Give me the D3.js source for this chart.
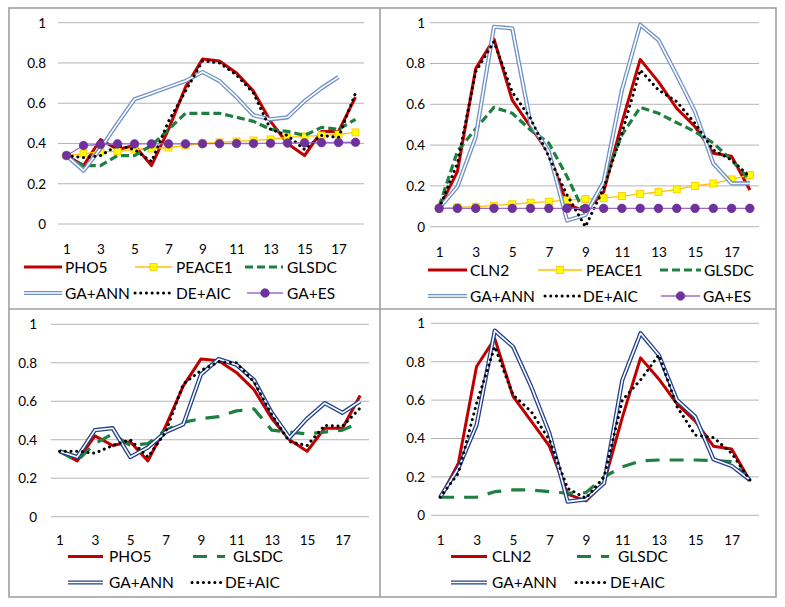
<!DOCTYPE html>
<html><head><meta charset="utf-8">
<script src="https://cdn.jsdelivr.net/npm/d3@7/dist/d3.min.js"></script>
<style>
html,body{margin:0;padding:0;background:#fff;}
svg{display:block;font-family:Lato,"Liberation Sans",sans-serif;}
</style></head>
<body>
<svg id="chart" width="785" height="607"></svg>
<script>
// ---------- data ----------
const categories = [1,2,3,4,5,6,7,8,9,10,11,12,13,14,15,16,17,18];
const xTickLabels = [1,3,5,7,9,11,13,15,17];
const yTickValues = [0,0.2,0.4,0.6,0.8,1];

// PHO5 target profile
const pho5 = [0.34,0.29,0.42,0.37,0.39,0.29,0.47,0.68,0.82,0.81,0.75,0.66,0.51,0.40,0.34,0.46,0.46,0.63];
// top-left panel estimates
const peace1Pho5 = [0.34,0.35,0.36,0.36,0.37,0.375,0.38,0.39,0.40,0.405,0.41,0.415,0.42,0.43,0.435,0.44,0.445,0.455];
const glsdcPho5 = [0.34,0.29,0.29,0.34,0.34,0.39,0.47,0.55,0.55,0.55,0.53,0.51,0.47,0.46,0.44,0.48,0.47,0.52];
const gaAnnPho5 = [0.34,0.265,0.375,0.50,0.62,0.65,0.68,0.71,0.755,0.71,0.63,0.54,0.52,0.53,0.61,0.675,0.73,null];
const deAicPho5 = [0.34,0.33,0.34,0.39,0.37,0.31,0.51,0.66,0.81,0.80,0.74,0.65,0.47,0.44,0.37,0.44,0.43,0.65];
const gaEsPho5 = [0.34,0.39,0.395,0.398,0.398,0.398,0.398,0.398,0.399,0.399,0.40,0.40,0.401,0.402,0.403,0.404,0.405,0.406];
// bottom-left panel estimates
const glsdcPho5B = [0.34,0.29,0.38,0.43,0.37,0.38,0.45,0.49,0.51,0.52,0.55,0.56,0.45,0.44,0.43,0.44,0.45,0.49];
const gaAnnPho5B = [0.34,0.31,0.45,0.46,0.31,0.36,0.44,0.48,0.74,0.82,0.79,0.71,0.54,0.41,0.51,0.59,0.54,0.60];
const deAicPho5B = [0.34,0.34,0.33,0.37,0.40,0.31,0.44,0.69,0.76,0.805,0.80,0.70,0.53,0.39,0.37,0.475,0.47,0.565];

// CLN2 target profile
const cln2 = [0.09,0.27,0.775,0.92,0.62,0.49,0.36,0.11,0.075,0.17,0.51,0.82,0.71,0.58,0.49,0.36,0.345,0.18];
// top-right panel estimates
const peace1Cln2 = [0.09,0.095,0.098,0.103,0.11,0.118,0.123,0.13,0.135,0.14,0.15,0.16,0.17,0.183,0.20,0.212,0.232,0.253];
const glsdcCln2 = [0.10,0.37,0.48,0.585,0.556,0.474,0.41,0.245,0.06,0.22,0.45,0.585,0.556,0.51,0.466,0.41,0.327,0.229];
const gaAnnCln2 = [0.09,0.196,0.44,0.98,0.972,0.507,0.368,0.03,0.057,0.22,0.67,0.99,0.915,0.743,0.564,0.31,0.212,0.212];
const deAicCln2 = [0.09,0.31,0.76,0.907,0.66,0.531,0.343,0.155,0.0,0.188,0.458,0.768,0.67,0.613,0.506,0.376,0.327,0.245];
const gaEsCln2 = [0.09,0.09,0.09,0.09,0.09,0.09,0.09,0.09,0.09,0.09,0.09,0.09,0.09,0.09,0.09,0.09,0.09,0.09];
// bottom-right panel estimates
const glsdcCln2B = [0.094,0.094,0.094,0.123,0.132,0.132,0.123,0.115,0.118,0.20,0.253,0.283,0.288,0.288,0.288,0.285,0.28,0.184];
const gaAnnCln2B = [0.094,0.245,0.47,0.962,0.878,0.67,0.427,0.071,0.083,0.167,0.705,0.948,0.835,0.60,0.514,0.292,0.257,0.184];
const deAicCln2B = [0.094,0.219,0.583,0.878,0.627,0.54,0.392,0.14,0.089,0.20,0.60,0.705,0.835,0.566,0.418,0.405,0.323,0.184];

// ---------- styles ----------
const STY = {
  target: {color:"#C00000", width:3},
  peace1: {color:"#FFC000", width:1.3, marker:"square", fill:"#FFFF00"},
  glsdcShort: {color:"#1E8040", width:3.2, dash:"8,4"},
  glsdcLong: {color:"#1E8040", width:3.2, dash:"14,10"},
  annLight: {color:"#6F91C4", width:4.2, core:1.6, dbl:true},
  annDark: {color:"#22418A", width:4.2, core:1.6, dbl:true},
  deAic: {color:"#000", width:3, dash:"0.1,5.6", cap:"round"},
  gaEs: {color:"#9B6BCB", width:1.3, marker:"circle", fill:"#7030A0"}
};

const svg = d3.select("#chart");

// panel frame
const frame = svg.append("g").attr("stroke","#A0A0A0").attr("stroke-width",1.6).attr("fill","none");
frame.append("rect").attr("x",9).attr("y",8).attr("width",767).attr("height",589);
frame.append("line").attr("x1",380).attr("x2",380).attr("y1",8).attr("y2",597);
frame.append("line").attr("x1",9).attr("x2",776).attr("y1",309).attr("y2",309);

function drawPanel(p){
  const g = svg.append("g");
  const x = d3.scalePoint().domain(categories).range([p.gx0,p.gx1]).padding(0.5);
  const y = d3.scaleLinear().domain([0,1]).range([p.y0,p.y1]);
  // gridlines
  g.append("g").selectAll("line").data(yTickValues).join("line")
    .attr("x1",p.gx0).attr("x2",p.gx1)
    .attr("y1",d=>y(d)).attr("y2",d=>y(d))
    .attr("stroke","#B4B4B4").attr("stroke-width",1);
  // y axis labels
  const ya = g.append("g").attr("transform",`translate(${p.ylab},0)`)
    .call(d3.axisLeft(y).tickValues(yTickValues).tickSize(0).tickPadding(0).tickFormat(d=>String(d)));
  ya.select(".domain").remove();
  ya.selectAll("text").attr("font-size",13.5).attr("fill","#000").attr("font-family","Lato");
  // x axis labels
  const xa = g.append("g").attr("transform",`translate(0,${p.xlab})`)
    .call(d3.axisBottom(x).tickValues(xTickLabels).tickSize(0).tickPadding(0));
  xa.select(".domain").remove();
  xa.selectAll("text").attr("font-size",13.5).attr("fill","#000").attr("font-family","Lato").attr("dy","0.35em");

  const line = d3.line().defined(d=>d.v!=null).x(d=>x(d.c)).y(d=>y(d.v));
  p.series.forEach(s=>{
    const data = categories.map((c,i)=>({c, v:s.values[i]}));
    const st = s.style;
    g.append("path").datum(data).attr("d",line).attr("fill","none")
      .attr("stroke",st.color).attr("stroke-width",st.width)
      .attr("stroke-dasharray",st.dash||null)
      .attr("stroke-linecap",st.cap||"butt").attr("stroke-linejoin","round");
    if(st.dbl){
      g.append("path").datum(data).attr("d",line).attr("fill","none")
        .attr("stroke","#fff").attr("stroke-width",st.core).attr("stroke-linejoin","round");
    }
    if(st.marker==="square"){
      g.append("g").selectAll("rect").data(data.filter(d=>d.v!=null)).join("rect")
        .attr("x",d=>x(d.c)-3.5).attr("y",d=>y(d.v)-3.5).attr("width",7).attr("height",7)
        .attr("fill",st.fill).attr("stroke",st.color).attr("stroke-width",0.8);
    } else if(st.marker==="circle"){
      g.append("g").selectAll("circle").data(data.filter(d=>d.v!=null)).join("circle")
        .attr("cx",d=>x(d.c)).attr("cy",d=>y(d.v)).attr("r",4.3)
        .attr("fill",st.fill).attr("stroke","#5A2A85").attr("stroke-width",0.6);
    }
  });
  // legend
  p.series.forEach((s,i)=>{
    const L = p.legend[i];
    const st = s.style;
    const lg = g.append("g");
    lg.append("line").attr("x1",L[0]).attr("x2",L[1]).attr("y1",L[3]).attr("y2",L[3])
      .attr("stroke",st.color).attr("stroke-width",st.width)
      .attr("stroke-dasharray",st.dash||null).attr("stroke-linecap",st.cap||"butt");
    if(st.dbl){
      lg.append("line").attr("x1",L[0]).attr("x2",L[1]).attr("y1",L[3]).attr("y2",L[3])
        .attr("stroke","#fff").attr("stroke-width",st.core);
    }
    const mx = (L[0]+L[1])/2;
    if(st.marker==="square"){
      lg.append("rect").attr("x",mx-3.5).attr("y",L[3]-3.5).attr("width",7).attr("height",7)
        .attr("fill",st.fill).attr("stroke",st.color).attr("stroke-width",0.8);
    } else if(st.marker==="circle"){
      lg.append("circle").attr("cx",mx).attr("cy",L[3]).attr("r",4.3)
        .attr("fill",st.fill).attr("stroke","#5A2A85").attr("stroke-width",0.6);
    }
    lg.append("text").attr("x",L[2]).attr("y",L[3]).attr("dy","0.36em")
      .attr("font-size",15.5).attr("fill","#000").text(s.name);
  });
}

drawPanel({
  gx0:58, gx1:364, y0:224, y1:22.7, ylab:46, xlab:249,
  series:[
    {name:"PHO5", values:pho5, style:STY.target},
    {name:"PEACE1", values:peace1Pho5, style:STY.peace1},
    {name:"GLSDC", values:glsdcPho5, style:STY.glsdcShort},
    {name:"GA+ANN", values:gaAnnPho5, style:STY.annLight},
    {name:"DE+AIC", values:deAicPho5, style:STY.deAic},
    {name:"GA+ES", values:gaEsPho5, style:STY.gaEs}
  ],
  legend:[[24,62,65,267],[135,172,176,267],[245,283,287,267],
          [24,62,65,293],[135,172,176,293],[247,283,287,293]]
});

drawPanel({
  gx0:430, gx1:759, y0:226.7, y1:22.7, ylab:425, xlab:252,
  series:[
    {name:"CLN2", values:cln2, style:STY.target},
    {name:"PEACE1", values:peace1Cln2, style:STY.peace1},
    {name:"GLSDC", values:glsdcCln2, style:STY.glsdcShort},
    {name:"GA+ANN", values:gaAnnCln2, style:STY.annLight},
    {name:"DE+AIC", values:deAicCln2, style:STY.deAic},
    {name:"GA+ES", values:gaEsCln2, style:STY.gaEs}
  ],
  legend:[[428,467,470,270],[538,582,586,270],[660,701,704,270],
          [428,467,470,296],[545,580,583,296],[661,700,703,296]]
});

drawPanel({
  gx0:50.7, gx1:369, y0:516.7, y1:324.3, ylab:37, xlab:540.5,
  series:[
    {name:"PHO5", values:pho5, style:STY.target},
    {name:"GLSDC", values:glsdcPho5B, style:STY.glsdcLong},
    {name:"GA+ANN", values:gaAnnPho5B, style:STY.annDark},
    {name:"DE+AIC", values:deAicPho5B, style:STY.deAic}
  ],
  legend:[[68,103,109,556.5],[193,225,233,556.5],
          [68,103,109,582.5],[192,222,225,582.5]]
});

drawPanel({
  gx0:431, gx1:759, y0:515.3, y1:323.3, ylab:425, xlab:540.5,
  series:[
    {name:"CLN2", values:cln2, style:STY.target},
    {name:"GLSDC", values:glsdcCln2B, style:STY.glsdcLong},
    {name:"GA+ANN", values:gaAnnCln2B, style:STY.annDark},
    {name:"DE+AIC", values:deAicCln2B, style:STY.deAic}
  ],
  legend:[[451,487,492,556.5],[577,609,618,556.5],
          [451,487,492,582.5],[576,606,610,582.5]]
});
</script>
</body></html>
